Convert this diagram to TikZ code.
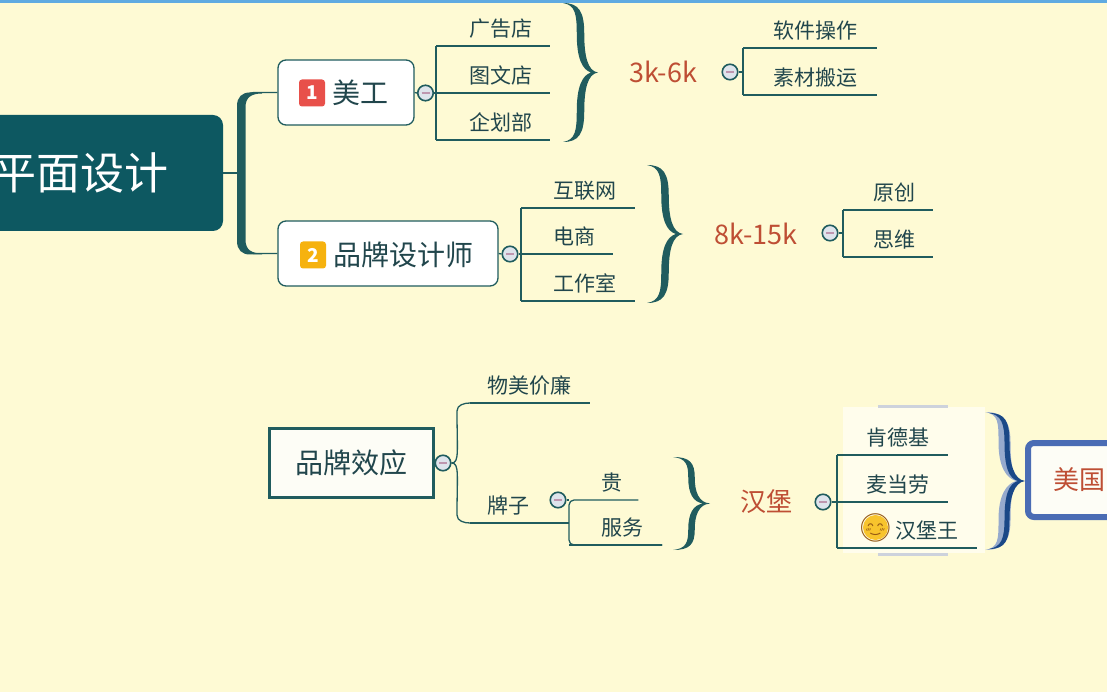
\documentclass[tikz,border=0pt]{standalone}
\usepackage{fontspec}
\setmainfont{Noto Sans CJK SC}
\newfontfamily\emojifont{Noto Emoji}
\usetikzlibrary{positioning}
\usetikzlibrary{calc}
\definecolor{bgyellow}{RGB}{254,250,212}
\definecolor{topblue}{RGB}{95,170,225}
\definecolor{rootteal}{RGB}{13,88,97}
\definecolor{linegreen}{RGB}{32,92,94}
\definecolor{inkteal}{RGB}{33,70,76}
\definecolor{salaryred}{RGB}{190,78,52}
\definecolor{badgered}{RGB}{232,80,74}
\definecolor{badgeorange}{RGB}{246,178,14}
\definecolor{knobfill}{RGB}{222,228,236}
\definecolor{knobminus}{RGB}{190,150,175}
\definecolor{usblue}{RGB}{74,108,180}
\definecolor{bracedark}{RGB}{26,72,135}
\definecolor{bracelight}{RGB}{150,170,205}
\definecolor{boxwhite}{RGB}{253,253,246}
\definecolor{selfill}{RGB}{255,253,236}
\definecolor{selgrey}{RGB}{205,210,220}
\definecolor{smileyellow}{RGB}{248,196,45}
\definecolor{smilebrown}{RGB}{150,90,20}
\tikzstyle{branch}=[linegreen, line width=1.3pt]
\tikzstyle{rootbox}=[fill=rootteal, rounded corners=10pt, text=white, font=\fontsize{44}{44}\selectfont, inner sep=0pt]
\tikzstyle{topicbox}=[draw=linegreen, line width=1.3pt, fill=white, rounded corners=8pt, inner sep=0pt]
\tikzstyle{topictext}=[text=inkteal, font=\fontsize{28}{28}\selectfont, inner sep=0pt]
\tikzstyle{badge}=[rounded corners=3pt, minimum width=26pt, minimum height=27pt, inner sep=0pt, text=white, font=\fontsize{19}{19}\selectfont\bfseries]
\tikzstyle{leaf}=[anchor=south west, align=left, inner xsep=0pt, inner ysep=6pt, text height=16pt, text depth=3pt, text=inkteal, font=\fontsize{21}{25}\selectfont]
\tikzstyle{knob}=[circle, draw=linegreen, line width=1.6pt, fill=knobfill, minimum size=15.5pt, inner sep=0pt, path picture={\draw[knobminus, line width=1.4pt] ([xshift=-4pt]path picture bounding box.center) -- ([xshift=4pt]path picture bounding box.center);}]
\tikzstyle{salary}=[text=salaryred, font=\fontsize{27}{27}\selectfont, inner sep=0pt]
\tikzstyle{effectbox}=[draw=linegreen, line width=3pt, fill=boxwhite, minimum width=164pt, minimum height=69pt, text=inkteal, font=\fontsize{28}{28}\selectfont]
\tikzstyle{usbox}=[draw=usblue, line width=6pt, rounded corners=6pt, fill=boxwhite, minimum width=102pt, minimum height=74pt, text=salaryred, font=\fontsize{26}{26}\selectfont]
\tikzstyle{smiley}=[circle, fill=smileyellow, minimum size=25pt, inner sep=0pt]
\tikzstyle{smileface}=[inner sep=0pt, text=smilebrown, font=\emojifont\fontsize{28}{28}\selectfont]
% curly brace: left x, top y, bottom y, width, stroke, colour
\newcommand{\drawcurly}[6]{%
  \pgfmathsetmacro{\cbm}{(#2+#3)/2}
  \pgfmathsetmacro{\cbh}{#3-#2}
  \pgfmathsetmacro{\cba}{#1+0.5*#4}
  \pgfmathsetmacro{\cbt}{#5/2}
  \fill[#6] (#1,#2)
    .. controls ({#1+0.45*#4},#2) and ({\cba+\cbt},{#2+0.06*\cbh}) .. ({\cba+\cbt},{#2+0.22*\cbh})
    .. controls ({\cba+\cbt},{\cbm-0.12*\cbh}) and ({\cba+0.2*#4},{\cbm-0.01*\cbh}) .. ({#1+#4},\cbm)
    .. controls ({\cba+0.2*#4},{\cbm+0.01*\cbh}) and ({\cba+\cbt},{\cbm+0.12*\cbh}) .. ({\cba+\cbt},{#3-0.22*\cbh})
    .. controls ({\cba+\cbt},{#3-0.06*\cbh}) and ({#1+0.45*#4},#3) .. (#1,#3)
    .. controls ({#1+0.35*#4},{#3-0.015*\cbh}) and ({\cba-\cbt},{#3-0.08*\cbh}) .. ({\cba-\cbt},{#3-0.22*\cbh})
    .. controls ({\cba-\cbt},{\cbm+0.1*\cbh}) and ({\cba+0.05*#4},{\cbm+0.02*\cbh}) .. ({\cba+0.3*#4},\cbm)
    .. controls ({\cba+0.05*#4},{\cbm-0.02*\cbh}) and ({\cba-\cbt},{\cbm-0.1*\cbh}) .. ({\cba-\cbt},{#2+0.22*\cbh})
    .. controls ({\cba-\cbt},{#2+0.08*\cbh}) and ({#1+0.35*#4},{#2+0.015*\cbh}) .. (#1,#2) -- cycle;
}
\begin{document}
\begin{tikzpicture}[x=1pt,y=-1pt]
\useasboundingbox (0,0) rectangle (1107,692);
\fill[bgyellow] (0,0) rectangle (1107,692);
\fill[topblue] (0,0) rectangle (1107,3);

% selection frame behind the fast food names
\fill[selfill] (843,407) rectangle (985,553);
\fill[selgrey] (878,404.5) rectangle (948,407.5);
\fill[selgrey] (878,552.5) rectangle (948,555.5);

% root and main topics
\node[rootbox, minimum width=286pt, minimum height=116pt] (root) at (80,173) {平面设计};
\node[topicbox, minimum width=136pt, minimum height=65pt] (meigong) at (346,92.5) {};
\node[badge, fill=badgered] (n1) at (312,93) {1};
\node[topictext, right=7pt of n1] (meigongtxt) {美工};
\node[topicbox, minimum width=220pt, minimum height=65pt] (pinpai) at (388,253.5) {};
\node[badge, fill=badgeorange] (n2) at (313,255) {2};
\node[topictext, right=7pt of n2] (pinpaitxt) {品牌设计师};

\coordinate (hub) at (241,173);
\draw[branch] (root.east) -- (hub);
\draw[branch, rounded corners=13pt] (meigong.west) -| (hub) |- (pinpai.west);
\fill[linegreen] (262,92.5) -- (250,92.5) .. controls (242,92.5) and (237,97) .. (237,106) -- (237,241)
   .. controls (237,250) and (242,254.5) .. (250,254.5) -- (262,254.5) -- (262,253.5)
   .. controls (252,253.5) and (245.5,250) .. (245.5,240) -- (245.5,107)
   .. controls (245.5,97) and (252,93.5) .. (262,93.5) -- cycle;

% leaves
\foreach \name/\x/\y/\len/\pad/\txt in {a1/436/46/114/33/广告店, a2/436/93/114/33/图文店, a3/436/140/114/33/企划部,
    b1/521/208/114/32/互联网, b2/521/254/92/32/电商, b3/521/301/114/32/工作室,
    c1/743/48/134/30/软件操作, c2/743/95/134/30/素材搬运,
    d1/843/210/90/30/原创, d2/843/257/90/30/思维,
    e1/470/403/120/17/物美价廉, e2/470/523/99/17/牌子,
    f1/569/500/69/32/贵, f2/569/545/93/32/服务,
    g1/837/455/111/29/肯德基, g2/837/502/111/29/麦当劳, g3/837/548/140/58/汉堡王}
  \node[leaf, text width=\len pt] (\name) at (\x,\y) {\hspace*{\pad pt}\txt};
\foreach \name in {a1,a2,a3,b1,b2,b3,c1,c2,d1,d2,e1,e2,f2,g1,g2,g3}
  \draw[branch] (\name.south west) -- (\name.south east);
\node[smiley] (smile) at (875.5,527.5) {};
\node[smileface] (smileglyph) at (smile.center) {😊};

% collapse knobs
\node[knob] (k1) at (425.5,93) {};
\node[knob] (k2) at (510,254) {};
\node[knob] (k3) at (730,72) {};
\node[knob] (k4) at (830,233) {};
\node[knob] (k5) at (443,463) {};
\node[knob] (k6) at (558,500) {};
\node[knob] (k7) at (823,502) {};

\draw[branch] (meigong.east) -- (k1.west);
\draw[branch] (pinpai.east) -- (k2.west);
\draw[branch] (a1.south west) -- (a3.south west);
\draw[branch] (k1.east) -- (a2.south west);
\draw[branch] (b1.south west) -- (b3.south west);
\draw[branch] (k2.east) -- (b2.south west);
\draw[branch] (c1.south west) -- (c2.south west);
\draw[branch] (k3.east) -- (k3.east -| c1.south west);
\draw[branch] (d1.south west) -- (d2.south west);
\draw[branch] (k4.east) -- (k4.east -| d1.south west);
\draw[branch] (g1.south west) -- (g3.south west);
\draw[branch] (k7.east) -- (g2.south west);
\draw[branch, rounded corners=5pt] (f1.south east) -- (f1.south west) -- (f2.south west) -- (f2.south east);
\draw[branch] (k6.east) -- (f1.south west);

% brand effect
\node[effectbox] (effect) at (351,462.5) {品牌效应};
\draw[branch] (k5.east) .. controls +(8,0) and +(0,40) .. ($(e1.south west)+(-13,8)$) .. controls +(0,-6) and +(-6,0) .. (e1.south west);
\draw[branch] (k5.east) .. controls +(8,0) and +(0,-40) .. ($(e2.south west)+(-13,-8)$) .. controls +(0,6) and +(-6,0) .. (e2.south west);
\draw[branch] (effect.east) -- (k5.west);

% salaries and braces
\node[salary] (s1) at (663,72) {3k-6k};
\node[salary] (s2) at (756,234) {8k-15k};
\node[salary, font=\fontsize{26}{26}\selectfont] (s3) at (766,502) {汉堡};
\drawcurly{563}{3}{142}{35}{7.5}{linegreen}
\drawcurly{647}{165}{303}{36}{7.5}{linegreen}
\drawcurly{673}{457}{550}{37}{6.5}{linegreen}
\drawcurly{985}{412}{550}{39}{12}{bracelight}
\drawcurly{989}{413}{549}{36}{5}{bracedark}

\node[usbox] (usa) at (1079,480) {美国};
\end{tikzpicture}
\end{document}
